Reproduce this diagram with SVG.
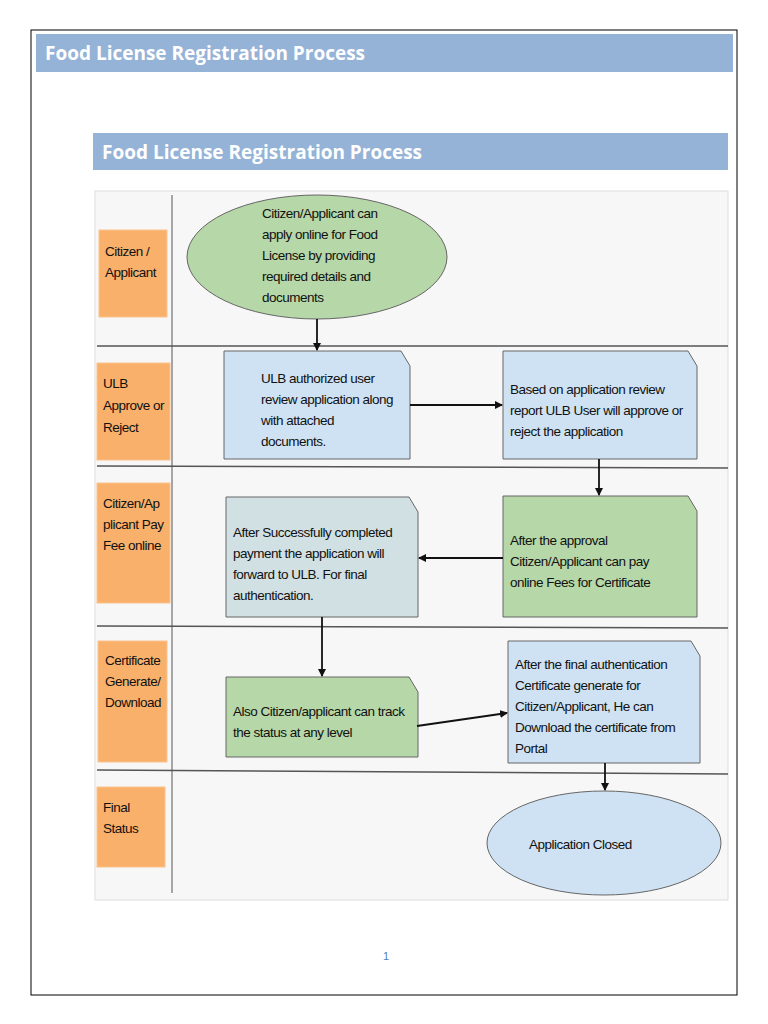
<svg xmlns="http://www.w3.org/2000/svg" width="768" height="1024" viewBox="0 0 768 1024">
<style>
.h{font-family:"Open Sans","Liberation Sans",sans-serif;font-weight:bold;font-size:19px;fill:#fff}
.t{font-family:"Liberation Sans",sans-serif;font-size:13.5px;letter-spacing:-0.5px;fill:#111}
.lane{fill:#f9b06b;stroke:#fbc38f}
.sep{stroke:#555;stroke-width:1.5}
.blue{fill:#cfe2f3;stroke:#666}
.green{fill:#b6d7a8;stroke:#666}
.gray{fill:#d0e0e3;stroke:#666}
.c{stroke:#111;stroke-width:1.8;fill:none;marker-end:url(#a)}
</style>
<defs><marker id="a" markerWidth="8" markerHeight="8" refX="7" refY="4" orient="auto" markerUnits="userSpaceOnUse"><path d="M0,0 L8,4 L0,8 z" fill="#111"/></marker></defs>
<rect width="768" height="1024" fill="#fff"/>
<rect x="31" y="30" width="706" height="965" fill="none" stroke="#000"/>
<rect x="36" y="34" width="697" height="38" fill="#95b3d7"/>
<text class="h" x="45" y="60">Food License Registration Process</text>
<rect x="93" y="133" width="635" height="37" fill="#95b3d7"/>
<text class="h" x="102" y="159">Food License Registration Process</text>
<rect x="95" y="191" width="633" height="709" fill="#f7f7f7" stroke="#ddd"/>
<line x1="172" y1="195" x2="172" y2="893" stroke="#555"/>
<g class="sep"><line x1="97" y1="346" x2="728" y2="346"/><line x1="97" y1="466" x2="728" y2="468"/><line x1="97" y1="626" x2="728" y2="628"/><line x1="97" y1="770" x2="728" y2="774"/></g>
<g id="lane1"><rect class="lane" x="99" y="230" width="68" height="87"/><text class="t" x="105" y="256">Citizen /</text><text class="t" x="105" y="277">Applicant</text></g>
<g id="lane2"><rect class="lane" x="97" y="363" width="73" height="97"/><text class="t" x="103" y="388">ULB</text><text class="t" x="103" y="410">Approve or</text><text class="t" x="103" y="432">Reject</text></g>
<g id="lane3"><rect class="lane" x="97" y="483" width="73" height="120"/><text class="t" x="103" y="508">Citizen/Ap</text><text class="t" x="103" y="529">plicant Pay</text><text class="t" x="103" y="550">Fee online</text></g>
<g id="lane4"><rect class="lane" x="98" y="641" width="69" height="121"/><text class="t" x="105" y="665">Certificate</text><text class="t" x="105" y="686">Generate/</text><text class="t" x="105" y="707">Download</text></g>
<g id="lane5"><rect class="lane" x="97" y="787" width="68" height="80"/><text class="t" x="103" y="812">Final</text><text class="t" x="103" y="833">Status</text></g>
<g id="start"><ellipse class="green" cx="317" cy="257" rx="130" ry="62"/><text class="t" x="262" y="218">Citizen/Applicant can</text><text class="t" x="262" y="239">apply online for Food</text><text class="t" x="262" y="260">License by providing</text><text class="t" x="262" y="281">required details and</text><text class="t" x="262" y="302">documents</text></g>
<g id="review"><path class="blue" d="M224,351 H401 L410,366 V459 H224 Z"/><text class="t" x="261" y="383">ULB  authorized user</text><text class="t" x="261" y="404">review application along</text><text class="t" x="261" y="425">with attached</text><text class="t" x="261" y="446">documents.</text></g>
<g id="approve"><path class="blue" d="M503,351 H688 L697,366 V459 H503 Z"/><text class="t" x="510" y="394">Based on application review</text><text class="t" x="510" y="415">report ULB User will approve or</text><text class="t" x="510" y="436">reject the application</text></g>
<g id="pay"><path class="green" d="M503,496 H688 L697,511 V617 H503 Z"/><text class="t" x="510" y="545">After the approval</text><text class="t" x="510" y="566">Citizen/Applicant can pay</text><text class="t" x="510" y="587">online Fees for Certificate</text></g>
<g id="forward"><path class="gray" d="M226,497 H409 L418,512 V617 H226 Z"/><text class="t" x="233" y="537">After Successfully completed</text><text class="t" x="233" y="558">payment the application will</text><text class="t" x="233" y="579">forward to ULB. For final</text><text class="t" x="233" y="600">authentication.</text></g>
<g id="track"><path class="green" d="M226,677 H409 L418,692 V757 H226 Z"/><text class="t" x="233" y="716">Also Citizen/applicant can track</text><text class="t" x="233" y="737">the status at any level</text></g>
<g id="generate"><path class="blue" d="M508,641 H691 L700,656 V763 H508 Z"/><text class="t" x="515" y="669">After the final authentication</text><text class="t" x="515" y="690">Certificate generate for</text><text class="t" x="515" y="711">Citizen/Applicant, He can</text><text class="t" x="515" y="732">Download the certificate from</text><text class="t" x="515" y="753">Portal</text></g>
<g id="end"><ellipse class="blue" cx="604" cy="843" rx="117" ry="52"/><text class="t" x="529" y="849">Application Closed</text></g>
<g id="connectors">
<line class="c" x1="317" y1="319" x2="317" y2="350"/>
<line class="c" x1="410" y1="405" x2="502" y2="405"/>
<line class="c" x1="599" y1="459" x2="599" y2="495"/>
<line class="c" x1="503" y1="558" x2="419" y2="558"/>
<line class="c" x1="322" y1="617" x2="322" y2="676"/>
<line class="c" x1="417" y1="726" x2="507" y2="713"/>
<line class="c" x1="605" y1="763" x2="605" y2="790"/>
</g>
<text x="383" y="960" font-family="Liberation Sans,sans-serif" font-size="11" fill="#4f81bd">1</text>
</svg>
